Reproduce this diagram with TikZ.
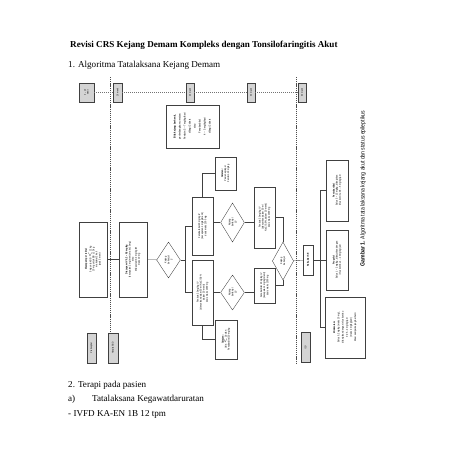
\documentclass[tikz,border=0pt]{standalone}
\usepackage{fontspec}
\setmainfont{Liberation Serif}
\newfontfamily\fsans[FakeStretch=0.85]{Liberation Sans}
\usetikzlibrary{shapes.geometric}
\begin{document}
\begin{tikzpicture}[x=1pt,y=-1pt,
  fc/.style={draw=black!75, line width=0.35pt, rotate=90, inner sep=0.3pt, align=center, font=\fsans\fontsize{2.6}{3.1}\selectfont, fill=white},
  gbox/.style={fc, fill=black!17, font=\fsans\fontsize{2.4}{2.8}\selectfont},
  dia/.style={fc, diamond, aspect=0.6},
  conn/.style={draw=black!75, line width=0.35pt},
  tl/.style={draw=black!55, line width=0.4pt, dash pattern=on 1pt off 1pt},
  vl/.style={draw=black!70, line width=0.7pt, dash pattern=on 1.2pt off 0.9pt},
  doc/.style={font=\fontsize{9.1}{11}\selectfont, anchor=base west, inner sep=0}]
\fill[white] (0,0) rectangle (453,453);
\useasboundingbox (0,0) rectangle (453,453);

% document text
\node[doc, font=\bfseries\fontsize{9.1}{11}\selectfont] (t1) at (70,47) {Revisi CRS Kejang Demam Kompleks dengan Tonsilofaringitis Akut};
\node[doc] (t2) at (68,67) {1. Algoritma Tatalaksana Kejang Demam};
\node[doc] (t3) at (68,387) {2. Terapi pada pasien};
\node[doc] (t4) at (68,401) {a)};
\node[doc] (t5) at (92,401) {Tatalaksana Kegawatdaruratan};
\node[doc] (t6) at (68,416) {- IVFD KA-EN 1B 12 tpm};

% vertical phase lines
\coordinate (v1top) at (110,77);
\coordinate (v2top) at (296,77);
\coordinate (v2bot) at (296,363);

% timeline
\node[gbox, minimum width=19pt, minimum height=15pt] (tA) at (86.5,92.5) {0 -- 10\\menit};
\node[gbox, minimum width=19pt, minimum height=9pt] (tB) at (117.5,92.5) {10 menit};
\node[gbox, minimum width=19pt, minimum height=8pt] (tC) at (190,92.5) {20 menit};
\node[gbox, minimum width=19pt, minimum height=8pt] (tD) at (251,92.5) {30 menit};
\node[gbox, minimum width=19pt, minimum height=8pt] (tE) at (302,92.5) {60 menit};

% bottom setting boxes
\node[gbox, minimum width=30pt, minimum height=9pt] (pre) at (91.5,348) {Prehospital};
\node[gbox, minimum width=30pt, minimum height=10pt] (hosp) at (113,348) {Hospital/IGD};
\node[gbox, minimum width=30pt, minimum height=9pt] (icu) at (305.5,347.5) {ICU};

\draw[vl] (v1top) -- (v1top |- hosp.east);
\draw[vl] (v2top) -- (v2bot);
\draw[tl] (tA) -- (tB);
\draw[tl] (tB) -- (tC);
\draw[tl] (tC) -- (tD);
\draw[tl] (tD) -- (tE);

% flow
\node[fc, minimum width=75pt, minimum height=28pt] (b1) at (93,259.5) {\textbf{Diazepam per rektal}\\5 mg untuk BB $<$ 12 kg\\10 mg untuk BB ≥ 12 kg\\maksimal 2 kali\\jarak 5 menit};
\node[fc, minimum width=75pt, minimum height=28pt] (b2) at (133,259.5) {\textbf{Diazepam IV 0,2 -- 0,5 mg/kg}\\(kecepatan 2 mg/menit, maks 10 mg)\\atau\\Midazolam 0,2 mg/kg IM\\maks 10 mg};
\node[dia, minimum width=36pt, minimum height=23pt] (d1) at (168.5,260) {Kejang\\berlanjut\\5'};
\coordinate (s1) at (185,260);
\node[fc, minimum width=58pt, minimum height=21pt] (f1) at (202.5,226) {Fenobarbital 20 mg/kg IV\\(kecepatan 1 mg/kg/menit)\\dosis maks 1000 mg};
\node[fc, minimum width=65pt, minimum height=21pt] (f2) at (202.5,292.5) {Fenitoin 20 mg/kg IV\\(diencerkan dalam 50 ml NaCl 0,9\%\\dalam 20 menit)\\dosis maks 1000 mg};
\node[dia, minimum width=39pt, minimum height=19pt] (d2) at (232.5,222.5) {Kejang\\berlanjut\\10'};
\node[dia, minimum width=35pt, minimum height=19pt] (d3) at (232.5,292.5) {Kejang\\berlanjut\\10'};
\node[fc, minimum width=61pt, minimum height=21pt] (g1) at (264.5,217.5) {Fenitoin 20 mg/kg IV\\(diencerkan dalam 50 ml\\NaCl 0,9\%, dalam 20 menit)\\dosis maks 1000 mg};
\node[fc, minimum width=35pt, minimum height=21pt] (g2) at (264.5,285.5) {Fenobarbital 20 mg/kg IV\\(kecepatan 1 mg/kg/menit)\\dosis maks 1000 mg};
\node[dia, minimum width=38pt, minimum height=20pt] (d4) at (283,261) {Kejang\\berlanjut};
\node[fc, minimum width=30pt, minimum height=10pt] (ref) at (308,260) {\textbf{Refrakter SE}};
\coordinate (s2) at (320,260);
\node[fc, minimum width=61pt, minimum height=22pt] (pento) at (337,190.5) {\textbf{Pentobarbital}\\Bolus 5 -- 15 mg/kg, dilanjutkan\\infus kontinu 0,5 -- 5 mg/kg/jam};
\node[fc, minimum width=60pt, minimum height=22pt] (prop) at (337,260) {\textbf{Propofol}\\Bolus 1 -- 2 mg/kg, dilanjutkan dengan\\infus kontinu 1 -- 10 mg/kg/jam};
\node[fc, minimum width=61pt, minimum height=40pt, font=\fsans\fontsize{2.6}{4.2}\selectfont] (midaz) at (345,327.5) {\textbf{Midazolam}\\Bolus 0,2 mg/kg (maks 10 mg),\\dilanjutkan dengan infus kontinu\\0,05 -- 2 mg/kg/jam\\(maks 2 mg/kg/jam)\\titrasi sampai kejang berhenti};
\node[fc, minimum width=33pt, minimum height=21pt] (c1) at (225.5,173.5) {\textbf{Catatan:}\\Pasien epilepsi:\\Fenitoin 10 mg/kg};
\node[fc, minimum width=39pt, minimum height=22pt] (c2) at (226,339.5) {\textbf{Catatan:}\\Usia $<$ 1 bulan:\\Fenobarbital 20 mg/kg};
\node[fc, minimum width=43pt, minimum height=53pt, font=\fsans\fontsize{2.8}{5}\selectfont] (bila) at (192.5,126.5) {\textbf{Bila kejang berhenti,}\\pertimbangkan rumatan:\\Fenitoin 5 -- 7 mg/kg/hari\\dibagi 2 dosis\\atau\\Fenobarbital\\4 -- 5 mg/kg/hari\\dibagi 2 dosis};

\draw[conn] (b1) -- (b2);
\draw[conn] (b2) -- (d1);
\draw[conn] (d1) -- (s1);
\draw[conn] (s1) |- (f1);
\draw[conn] (s1) |- (f2);
\draw[conn] (d2.north -| f1.south) -- (d2.north);
\draw[conn] (f2) -- (d3);
\draw[conn] (d2.south) -- (d2.south -| g1.north);
\draw[conn] (d3.south) -- (d3.south -| g2.north);
\draw[conn] (g1.south) -| (d4.east);
\draw[conn] (g2.south) -| (d4.west);
\draw[conn] (d4) -- (ref);
\draw[conn] (ref) -- (s2);
\draw[conn] (s2) |- (pento);
\draw[conn] (s2) -- (prop);
\draw[conn] (s2) |- (midaz);
\draw[conn] (f1.east) |- (c1);
\draw[conn] (f2.west) |- (c2);

% caption
\node[rotate=90, font=\fsans\fontsize{6}{7}\selectfont, inner sep=0] (cap) at (363,188.5) {\textbf{Gambar 1.} Algoritma tata laksana kejang akut dan status epileptikus};
\end{tikzpicture}
\end{document}
